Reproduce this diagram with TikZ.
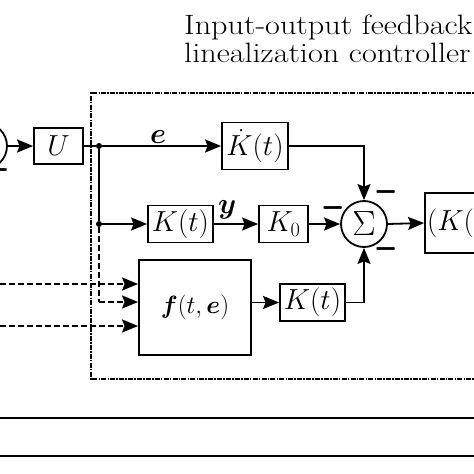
\RequirePackage{fix-cm}
\documentclass[tikz,border=0pt]{standalone}
\usepackage{amsmath,bm,graphicx}
\usetikzlibrary{arrows.meta}
\newcommand{\thickminus}{\raisebox{-14.5pt}[0pt][0pt]{\scalebox{1.5}[3.5]{$-$}}}
\begin{document}
\begin{tikzpicture}[x=1pt,y=-1pt,
  blk/.style 2 args={draw,line width=1.8pt,minimum width=#1pt,minimum height=#2pt,inner sep=0pt,font=\fontsize{29}{32}\selectfont},
  wire/.style={line width=1.8pt},
  arr/.style={wire,-{Stealth[length=16pt,width=13pt,inset=2.5pt]}},
  darr/.style={arr,dash pattern=on 6pt off 3pt},
  dashdot/.style={line width=1.9pt,dash pattern=on 5pt off 1.2pt on 1.5pt off 1.2pt},
  dot/.style={circle,fill,inner sep=0pt,minimum size=6pt},
  minus/.style={inner sep=0pt,font=\fontsize{20}{22}\selectfont},
  lbl/.style={inner sep=0pt,font=\fontsize{29}{32}\selectfont},
  title/.style={anchor=base west,inner sep=0pt,font=\fontsize{28}{28}\selectfont}]
\useasboundingbox (0,0) rectangle (474,474);
% title
\node[title] (t1) at (184,34) {\scalebox{1.15}[1]{Input-output feedback}};
\node[title] (t2) at (184,62) {\scalebox{1.15}[1]{linealization controller}};
% controller frame
\coordinate (fr1) at (480,93);
\coordinate (fr2) at (91,93);
\coordinate (fr3) at (91,379);
\coordinate (fr4) at (480,379);
\draw[dashdot] (fr1) -- (fr2) -- (fr3) -- (fr4);
% blocks
\node[circle,draw,line width=1.8pt,minimum size=46pt,inner sep=0pt] (s0) at (-16,146) {};
\node[minus] (m0) at (-2,173) {\thickminus};
\node[blk={49}{36}] (U) at (58.5,146) {$U$};
\node[blk={66}{47}] (Kd) at (255,146) {$\dot{K}(t)$};
\node[blk={65}{37}] (K1) at (180.5,224) {$K(t)$};
\node[blk={49}{37}] (K0) at (283.5,224) {$K_0$};
\node[circle,draw,line width=1.8pt,minimum size=46pt,inner sep=0pt,font=\fontsize{35}{38}\selectfont] (sig) at (364,224) {$\Sigma$};
\node[draw,line width=1.8pt,minimum width=110pt,minimum height=60pt,inner sep=0pt] (out) at (480,223) {};
\node[lbl,anchor=west] (outt) at (427,223) {$(K(t)$};
\node[blk={112}{95}] (fb) at (195,307.5) {\fontsize{25}{28}\selectfont$\boldsymbol{f}(t,\boldsymbol{e})$};
\node[blk={65}{37}] (K2) at (312.5,302.5) {$K(t)$};
% minus signs at the sum
\node[minus] (m1) at (386,195) {\thickminus};
\node[minus] (m2) at (333,211) {\thickminus};
\node[minus] (m3) at (386,252) {\thickminus};
% junctions
\node[dot] (j1) at (99,146) {};
\node[dot] (j2) at (99,224) {};
\coordinate (j3) at (99,302);
% connectors
\draw[arr] (s0.east) -- (U.west);
\draw[wire] (U.east) -- (j1);
\draw[arr] (j1) -- node[lbl,above=2pt,pos=0.47] (le) {$\boldsymbol{e}$} (Kd.west);
\draw[wire] (j1) -- (j2);
\draw[arr] (j2) -- (K1.west);
\draw[arr] (K1.east) -- node[lbl,above=4pt,pos=0.3] (ly) {$\boldsymbol{y}$} (K0.west);
\draw[arr] (K0.east) -- (sig.west);
\draw[arr] (Kd.east) -| (sig.north);
\draw[arr] (sig.east) -- (out.west);
\draw[wire,dash pattern=on 6pt off 3pt] (j2) -- (j3);
\draw[darr] (j3) -- (fb.west |- j3);
\coordinate (a1) at (0,284);
\coordinate (a3) at (0,326);
\draw[darr] (a1) -- (fb.west |- a1);
\draw[darr] (a3) -- (fb.west |- a3);
\draw[arr] (fb.east |- K2) -- (K2.west);
\draw[arr] (K2.east) -| (sig.south);
% bottom lines
\coordinate (b1) at (-5,418);
\coordinate (b2) at (480,418);
\coordinate (b3) at (-5,456);
\coordinate (b4) at (480,456);
\draw[wire] (b1) -- (b2);
\draw[wire] (b3) -- (b4);
\end{tikzpicture}
\end{document}
